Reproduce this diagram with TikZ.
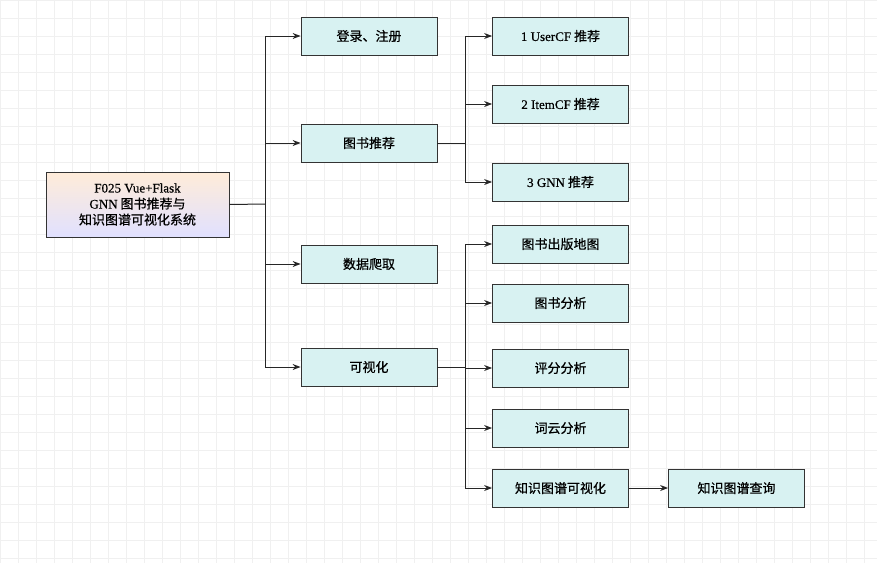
\documentclass[tikz,border=0pt]{standalone}
\usepackage{fontspec}
\newfontfamily\cjk[FakeBold=0.6]{Noto Sans CJK SC}
\newfontfamily\lat[FakeBold=0.6]{Liberation Serif}
\usetikzlibrary{arrows.meta}
\definecolor{boxfill}{HTML}{D8F2F2}
\begin{document}
\begin{tikzpicture}[x=1pt,y=-1pt,
  box/.style={draw=black!80,fill=boxfill,line width=0.8pt,minimum width=136pt,minimum height=38pt,inner sep=0pt,font=\cjk\fontsize{13}{15}\selectfont},
  root/.style={draw=black!80,line width=0.8pt,minimum width=183pt,minimum height=65pt,inner sep=0pt,top color=orange!15,bottom color=blue!12,align=center,font=\cjk\fontsize{13}{16}\selectfont},
  ln/.style={line width=1pt,black!85},
  ar/.style={ln,-{Stealth[length=8pt,width=6pt]}}]
\useasboundingbox (0,0) rectangle (877,563);
\fill[white] (0,0) rectangle (877,563);
\draw[black!6,step=18pt] (0,0) grid (877,563);
\node[root] (r) at (137.5,204.5) {{\lat F025 Vue+Flask}\\{\lat GNN} 图书推荐与\\知识图谱可视化系统};
\node[box] (a1) at (369,36) {登录、注册};
\node[box] (a2) at (369,143) {图书推荐};
\node[box] (a3) at (369,264) {数据爬取};
\node[box] (a4) at (369,367) {可视化};
\node[box] (b1) at (560.5,36) {{\lat 1 UserCF} 推荐};
\node[box] (b2) at (560.5,104) {{\lat 2 ItemCF} 推荐};
\node[box] (b3) at (560.5,182) {{\lat 3 GNN} 推荐};
\node[box] (c1) at (560.5,244) {图书出版地图};
\node[box] (c2) at (560.5,303) {图书分析};
\node[box] (c3) at (560.5,368) {评分分析};
\node[box] (c4) at (560.5,428) {词云分析};
\node[box] (c5) at (560.5,488) {知识图谱可视化};
\node[box] (d1) at (736.5,488) {知识图谱查询};
\coordinate (t1) at (265,204);
\draw[ln] (r.east) -- (t1);
\foreach \n in {a1,a2,a3,a4} \draw[ar] (t1) |- (\n.west);
\coordinate (t2) at (465,143);
\draw[ln] (a2.east) -- (t2);
\foreach \n in {b1,b2,b3} \draw[ar] (t2) |- (\n.west);
\coordinate (t3) at (465,367);
\draw[ln] (a4.east) -- (t3);
\foreach \n in {c1,c2,c3,c4,c5} \draw[ar] (t3) |- (\n.west);
\draw[ar] (c5.east) -- (d1.west);
\end{tikzpicture}
\end{document}
